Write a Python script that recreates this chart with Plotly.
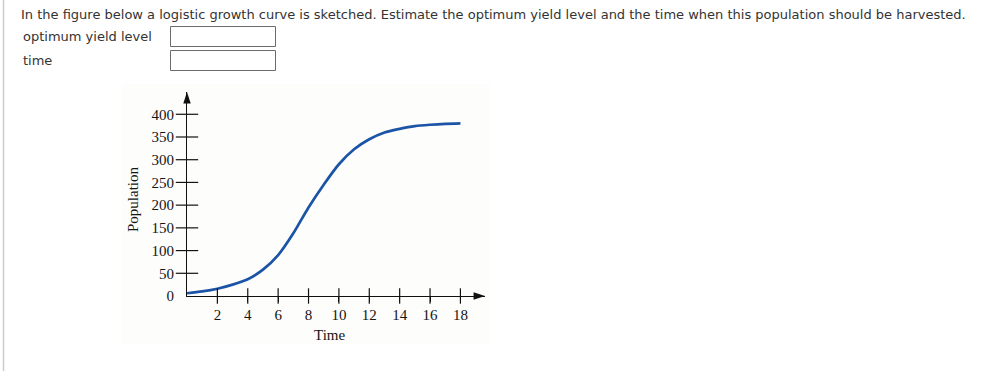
import plotly.graph_objects as go

# ---- data ----
time = [0, 1, 2, 3, 4, 5, 6, 7, 8, 9, 10, 11, 12, 13, 14, 15, 16, 17, 18]
population = [6, 10, 16, 25, 37, 58, 90, 138, 195, 245, 290, 323, 345, 360, 368, 374, 377, 379, 380]

x_ticks = [2, 4, 6, 8, 10, 12, 14, 16, 18]
x_tick_labels = ["2", "4", "6", "8", "10", "12", "14", "16", "18"]
y_ticks = [0, 50, 100, 150, 200, 250, 300, 350, 400]
y_tick_labels = ["0", "50", "100", "150", "200", "250", "300", "350", "400"]
y_cross_ticks = [50, 100, 150, 200, 250, 300, 350, 400]

question = ("In the figure below a logistic growth curve is sketched. Estimate the optimum "
            "yield level and the time when this population should be harvested.")
field_labels = ["optimum yield level", "time"]

# ---- layout geometry ----
W, H = 991, 371
L, R, T, B = 187, 506, 92, 75
PW, PH = W - L - R, H - T - B
X_END = PW / 15.19   # axis extent (arrow tip)
Y_END = PH / 0.4543


def px(x):
    return (x - L) / PW


def py(y):
    return (H - B - y) / PH


serif = dict(family="Liberation Serif, Times New Roman, serif", size=15, color="#151515")
sans = dict(family="Verdana, DejaVu Sans, sans-serif", size=13, color="#333333")

fig = go.Figure()

fig.add_trace(go.Scatter(
    x=time, y=population, mode="lines",
    line=dict(color="#1b54a6", width=2.7, shape="spline", smoothing=0.8),
    cliponaxis=False, hoverinfo="skip", showlegend=False,
))

# cross ticks on the axes
fig.add_trace(go.Scatter(
    x=x_ticks, y=[0] * len(x_ticks), mode="markers",
    marker=dict(symbol="line-ns", size=11, line=dict(color="#111111", width=1.2)),
    cliponaxis=False, hoverinfo="skip", showlegend=False,
))
fig.add_trace(go.Scatter(
    x=[0] * len(y_cross_ticks), y=y_cross_ticks, mode="markers",
    marker=dict(symbol="line-ew", size=16, line=dict(color="#111111", width=1.2)),
    cliponaxis=False, hoverinfo="skip", showlegend=False,
))

# arrow heads at the ends of the axes
fig.add_trace(go.Scatter(
    x=[X_END, 0], y=[0, Y_END], mode="markers",
    marker=dict(symbol="arrow", size=12, angle=[90, 0], color="#111111",
                line=dict(width=0)),
    cliponaxis=False, hoverinfo="skip", showlegend=False,
))

shapes = [
    # faint figure background
    dict(type="rect", xref="paper", yref="paper", x0=px(122), x1=px(490), y0=py(84), y1=py(344),
         fillcolor="#fdfdfb", line=dict(width=0), layer="below"),
    # left page border
    dict(type="line", xref="paper", yref="paper", x0=px(3.5), x1=px(3.5), y0=py(0), y1=py(371),
         line=dict(color="#cccccc", width=1.5)),
    # input boxes
    dict(type="rect", xref="paper", yref="paper", x0=px(170.5), x1=px(275.5), y0=py(26.5), y1=py(46.5),
         line=dict(color="#6b6b6b", width=1), fillcolor="white"),
    dict(type="rect", xref="paper", yref="paper", x0=px(170.5), x1=px(275.5), y0=py(50.5), y1=py(70.5),
         line=dict(color="#6b6b6b", width=1), fillcolor="white"),
]

annotations = [
    dict(text=question, xref="paper", yref="paper", x=px(19), y=py(14.5),
         xanchor="left", yanchor="middle", showarrow=False, font=sans),
    dict(text=field_labels[0], xref="paper", yref="paper", x=px(20.5), y=py(36.5),
         xanchor="left", yanchor="middle", showarrow=False, font=sans),
    dict(text=field_labels[1], xref="paper", yref="paper", x=px(20.5), y=py(60.5),
         xanchor="left", yanchor="middle", showarrow=False, font=sans),
    dict(text="Time", xref="paper", yref="paper", x=px(329.5), y=py(335),
         xanchor="center", yanchor="middle", showarrow=False, font=serif),
    dict(text="Population", xref="paper", yref="paper", x=px(133), y=py(199),
         xanchor="center", yanchor="middle", textangle=-90, showarrow=False, font=serif),
]

fig.update_layout(
    width=W, height=H,
    margin=dict(l=L, r=R, t=T, b=B, autoexpand=False),
    paper_bgcolor="white", plot_bgcolor="rgba(0,0,0,0)",
    shapes=shapes, annotations=annotations,
    hovermode=False, showlegend=False,
    xaxis=dict(range=[0, X_END], showgrid=False, zeroline=False, showline=True,
               linecolor="#111111", linewidth=1.2,
               tickmode="array", tickvals=x_ticks, ticktext=x_tick_labels,
               ticks="outside", ticklen=5, tickwidth=1.2, tickcolor="#111111",
               tickfont=serif, fixedrange=True),
    yaxis=dict(range=[0, Y_END], showgrid=False, zeroline=False, showline=True,
               linecolor="#111111", linewidth=1.2,
               tickmode="array", tickvals=y_ticks, ticktext=y_tick_labels,
               ticks="outside", ticklen=9, tickwidth=0, tickcolor="rgba(0,0,0,0)",
               tickfont=serif, fixedrange=True),
)

fig.write_html("out.html", config={"displayModeBar": False},
               post_script="document.body.style.margin='0';")
